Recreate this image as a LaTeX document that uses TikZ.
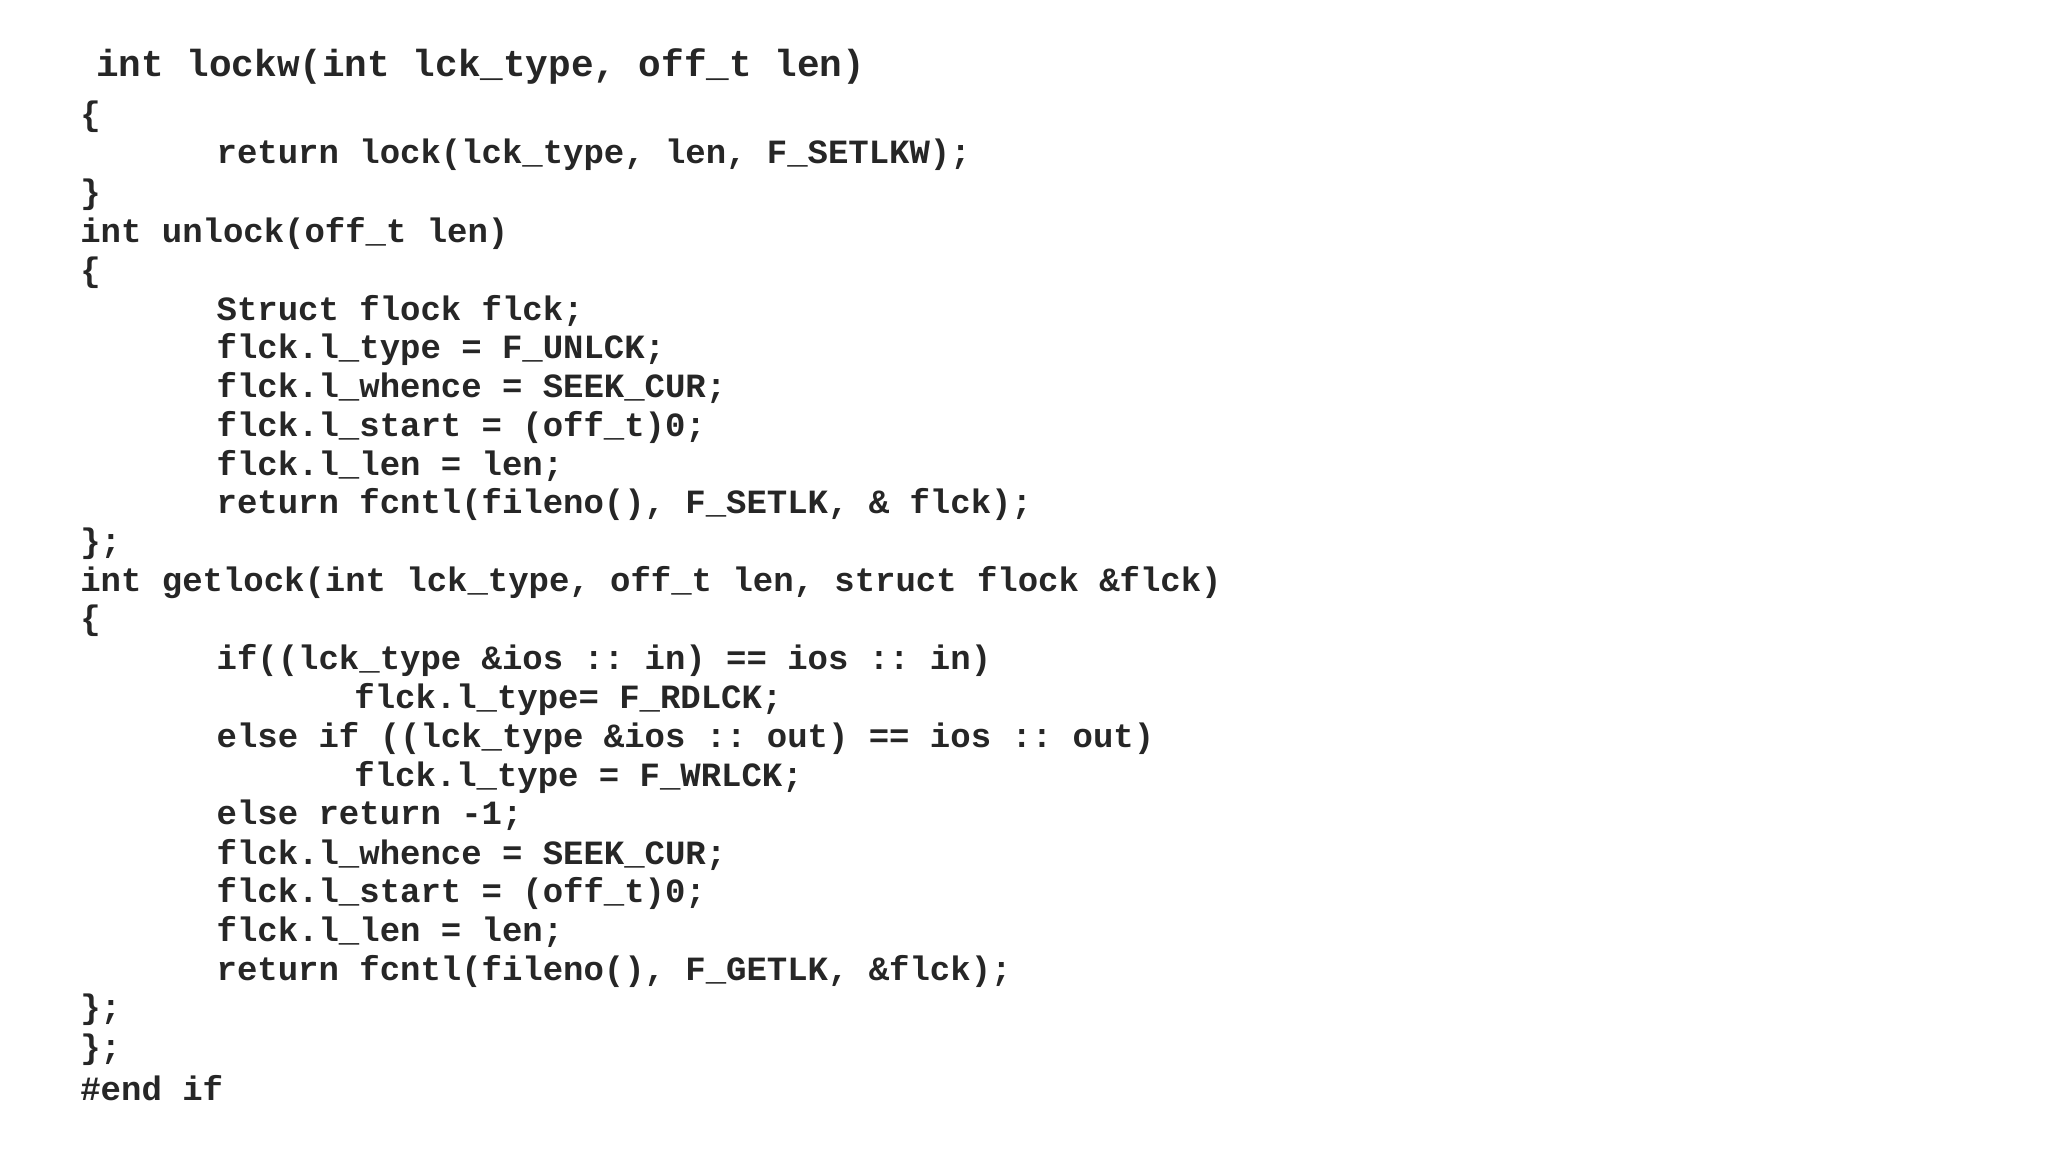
\documentclass[tikz,border=0pt]{standalone}
\usepackage{fontspec}
\setmonofont{Liberation Mono}
\begin{document}
\begin{tikzpicture}[x=0.1mm,y=-0.1mm,
  code/.style={anchor=west,inner sep=0pt,font=\ttfamily\bfseries\fontsize{7.3}{8}\selectfont,text=black!85}]
\useasboundingbox[fill=white] (0,0) rectangle (1547,870);
\node[code,font=\ttfamily\bfseries\fontsize{8.1}{9}\selectfont] (l1) at (72,50) {int lockw(int lck\_type, off\_t len)};
\node[code] (l2) at (60,88) {\{};
\node[code] (l3) at (163,117) {return lock(lck\_type, len, F\_SETLKW);};
\node[code] (l4) at (60,147) {\}};
\node[code] (l5) at (60,176) {int unlock(off\_t len)};
\node[code] (l6) at (60,206) {\{};
\node[code] (l7) at (163,235) {Struct flock flck;};
\node[code] (l8) at (163,264) {flck.l\_type = F\_UNLCK;};
\node[code] (l9) at (163,293) {flck.l\_whence = SEEK\_CUR;};
\node[code] (l10) at (163,323) {flck.l\_start = (off\_t)0;};
\node[code] (l11) at (163,352) {flck.l\_len = len;};
\node[code] (l12) at (163,381) {return fcntl(fileno(), F\_SETLK, \& flck);};
\node[code] (l13) at (60,411) {\};};
\node[code] (l14) at (60,440) {int getlock(int lck\_type, off\_t len, struct flock \&flck)};
\node[code] (l15) at (60,469) {\{};
\node[code] (l16) at (163,499) {if((lck\_type \&ios :: in) == ios :: in)};
\node[code] (l17) at (267,528) {flck.l\_type= F\_RDLCK;};
\node[code] (l18) at (163,558) {else if ((lck\_type \&ios :: out) == ios :: out)};
\node[code] (l19) at (267,587) {flck.l\_type = F\_WRLCK;};
\node[code] (l20) at (163,616) {else return -1;};
\node[code] (l21) at (163,646) {flck.l\_whence = SEEK\_CUR;};
\node[code] (l22) at (163,675) {flck.l\_start = (off\_t)0;};
\node[code] (l23) at (163,704) {flck.l\_len = len;};
\node[code] (l24) at (163,734) {return fcntl(fileno(), F\_GETLK, \&flck);};
\node[code] (l25) at (60,763) {\};};
\node[code] (l26) at (60,793) {\};};
\node[code] (l27) at (60,822) {\#end if};
\end{tikzpicture}
\end{document}
